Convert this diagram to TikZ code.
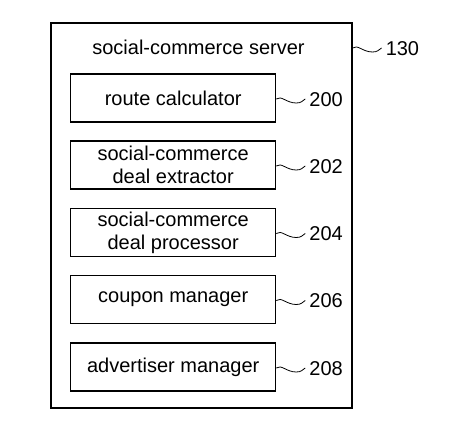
\documentclass[tikz,border=0pt]{standalone}
\usepackage{fontspec}
\setmainfont{Liberation Sans}
\begin{document}
\begin{tikzpicture}[x=1pt,y=-1pt,
  box/.style={draw,line width=1.1pt,inner sep=0pt},
  lbl/.style={font=\fontsize{20}{23}\selectfont,anchor=west,inner sep=0pt},
  txt/.style={font=\fontsize{20}{23}\selectfont,align=center,inner sep=0pt},
  squig/.style={line width=0.8pt}]
\useasboundingbox (0,0) rectangle (474,434);
\node[box,minimum width=301pt,minimum height=385pt] (srv) at (201.5,215.5) {};
\node[txt] (title) at (198.5,47) {social-commerce server};
\foreach \n/\y/\t in {200/98/{route calculator},202/165/{social-commerce\\deal extractor},204/232.5/{social-commerce\\deal processor},206/299.5/{coupon manager},208/367/{advertiser manager}}{
  \node[box,minimum width=205pt,minimum height=48pt] (b\n) at (173.2,\y) {};
  \node[txt] (t\n) at (b\n.center) {\t};
  \coordinate (e\n) at ([yshift=-1pt]b\n.east);
  \draw[squig] (e\n) .. controls +(5,-4) and +(-10,0) .. ++(20,4) .. controls +(5,0) and +(-3,2) .. ++(9,-4);
  \node[lbl] (l\n) at ([xshift=33pt,yshift=-1.5pt]b\n.east) {\n};
}
\coordinate (e130) at ([yshift=-1pt]srv.east |- title);
\draw[squig] (e130) .. controls +(5,-4) and +(-10,0) .. ++(20,4) .. controls +(5,0) and +(-3,2) .. ++(9,-4);
\node[lbl] (l130) at ([xshift=33pt,yshift=-1.5pt]srv.east |- title) {130};
\end{tikzpicture}
\end{document}
